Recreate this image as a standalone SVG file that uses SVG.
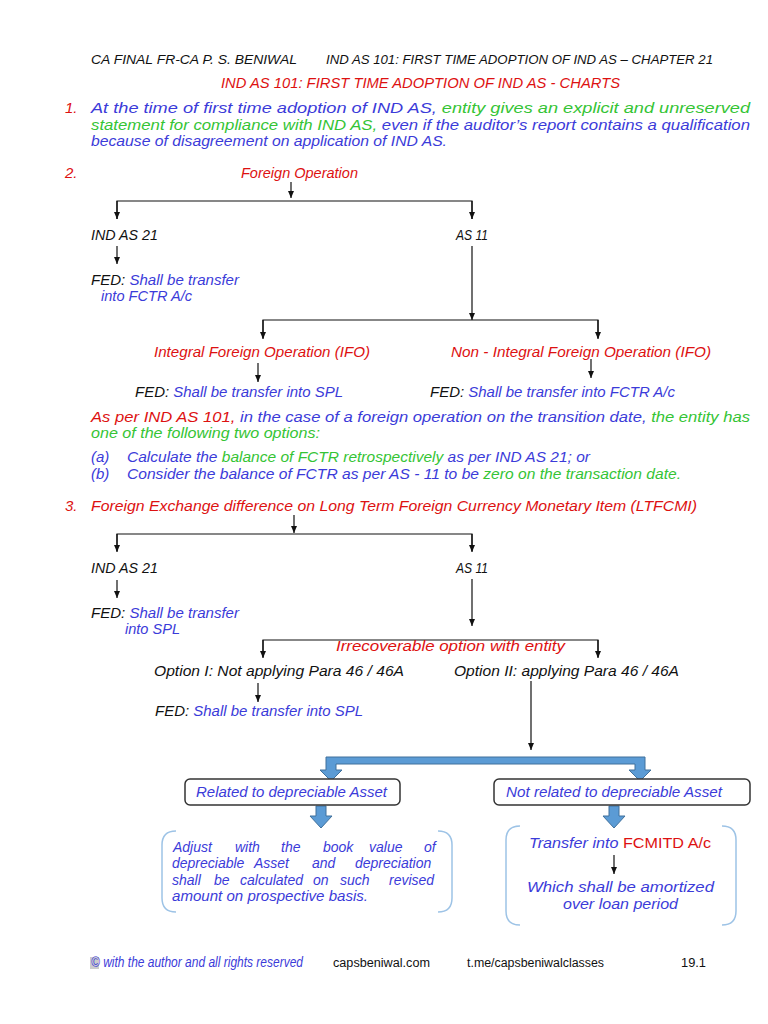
<svg xmlns="http://www.w3.org/2000/svg" width="768" height="1024" viewBox="0 0 768 1024">
<style>
text{font-family:"Liberation Sans","DejaVu Sans",sans-serif;font-style:italic;font-size:15px;fill:#111}
.k{fill:#111}.r{fill:#dd1111}.b{fill:#3b3bd9}.g{fill:#35c435}
.hd{font-size:13px}
.sm{font-size:14px}
.ft{font-style:normal;font-size:12px;font-family:"Liberation Sans","DejaVu Sans",sans-serif}
.cn line,.cn path.l{stroke:#111;stroke-width:1.2;fill:none}
.blk{fill:#5b9bd5;stroke:#41719c;stroke-width:1}
.box{fill:#fff;stroke:#333;stroke-width:1.5}
.brk{fill:none;stroke:#9dc3e6;stroke-width:1.5}
</style>
<defs>
<marker id="ah" markerWidth="8" markerHeight="8" refX="7" refY="4" orient="auto" markerUnits="userSpaceOnUse">
<path d="M0,1 L7,4 L0,7 Z" fill="#111"/>
</marker>
</defs>
<rect width="768" height="1024" fill="#fff"/>

<g id="header">
<text class="hd" x="91" y="64" textLength="206" lengthAdjust="spacingAndGlyphs">CA FINAL FR-CA P. S. BENIWAL</text>
<text class="hd" x="326" y="64" textLength="387" lengthAdjust="spacingAndGlyphs">IND AS 101: FIRST TIME ADOPTION OF IND AS – CHAPTER 21</text>
<text class="r" x="221" y="88" font-size="16" textLength="399" lengthAdjust="spacingAndGlyphs">IND AS 101: FIRST TIME ADOPTION OF IND AS - CHARTS</text>
</g>

<g id="point1">
<text class="r" x="65" y="113">1.</text>
<text x="91" y="113" textLength="659" lengthAdjust="spacingAndGlyphs"><tspan class="b">At the time of first time adoption of IND AS, </tspan><tspan class="g">entity gives an explicit and unreserved</tspan></text>
<text x="91" y="130" textLength="659" lengthAdjust="spacingAndGlyphs"><tspan class="g">statement for compliance with IND AS,</tspan><tspan class="b"> even if the auditor’s report contains a qualification</tspan></text>
<text class="b" x="91" y="146" textLength="356" lengthAdjust="spacingAndGlyphs">because of disagreement on application of IND AS.</text>
</g>

<g class="cn" id="connectors">
<line x1="291" y1="182" x2="291" y2="198" marker-end="url(#ah)"/>
<path class="l" d="M117,219 V201 H472 V219"/>
<line x1="117" y1="201" x2="117" y2="219" marker-end="url(#ah)"/>
<line x1="472" y1="201" x2="472" y2="219" marker-end="url(#ah)"/>
<line x1="117" y1="246" x2="117" y2="264" marker-end="url(#ah)"/>
<line x1="472" y1="246" x2="472" y2="320" stroke="#666" marker-end="url(#ah)"/>
<path class="l" d="M263,338 V320 H598 V338"/>
<line x1="263" y1="320" x2="263" y2="339" marker-end="url(#ah)"/>
<line x1="598" y1="320" x2="598" y2="339" marker-end="url(#ah)"/>
<line x1="258" y1="363" x2="258" y2="382" marker-end="url(#ah)"/>
<line x1="591" y1="359" x2="591" y2="378" marker-end="url(#ah)"/>
<line x1="294" y1="515" x2="294" y2="533" marker-end="url(#ah)"/>
<path class="l" d="M117,551 V534 H472 V551"/>
<line x1="117" y1="534" x2="117" y2="552" marker-end="url(#ah)"/>
<line x1="472" y1="534" x2="472" y2="552" marker-end="url(#ah)"/>
<line x1="117" y1="580" x2="117" y2="598" marker-end="url(#ah)"/>
<line x1="472" y1="579" x2="472" y2="626" stroke="#666" marker-end="url(#ah)"/>
<path class="l" d="M263,657 V640 H598 V657"/>
<line x1="263" y1="640" x2="263" y2="658" marker-end="url(#ah)"/>
<line x1="598" y1="640" x2="598" y2="658" marker-end="url(#ah)"/>
<line x1="258" y1="683" x2="258" y2="702" marker-end="url(#ah)"/>
<line x1="531" y1="681" x2="531" y2="750" marker-end="url(#ah)"/>
<line x1="614" y1="855" x2="614" y2="874" marker-end="url(#ah)"/>
<path class="blk" d="M326,757 H645 V770 H651 L640,781 L629,770 H635 V764 H336 V770 H342 L331,781 L320,770 H326 Z"/>
<path class="blk" d="M316,806 H326 V816 H332 L321,828 L310,816 H316 Z"/>
<path class="blk" d="M609,806 H619 V816 H625 L614,828 L603,816 H609 Z"/>
</g>

<g id="point2">
<text class="r" x="65" y="178">2.</text>
</g>
<g id="n-foreign-op"><text class="r" x="241" y="178" textLength="117" lengthAdjust="spacingAndGlyphs">Foreign Operation</text></g>
<g id="n-indas21-a"><text x="91" y="240" textLength="67" lengthAdjust="spacingAndGlyphs">IND AS 21</text></g>
<g id="n-as11-a"><text x="456" y="240" textLength="32" lengthAdjust="spacingAndGlyphs">AS 11</text></g>
<g id="n-fed-fctr">
<text x="91" y="285" textLength="148" lengthAdjust="spacingAndGlyphs">FED: <tspan class="b">Shall be transfer</tspan></text>
<text class="b" x="101" y="301" textLength="91" lengthAdjust="spacingAndGlyphs">into FCTR A/c</text>
</g>
<g id="n-ifo"><text class="r" x="154" y="357" textLength="216" lengthAdjust="spacingAndGlyphs">Integral Foreign Operation (IFO)</text></g>
<g id="n-nifo"><text class="r" x="451" y="357" textLength="260" lengthAdjust="spacingAndGlyphs">Non - Integral Foreign Operation (IFO)</text></g>
<g id="n-fed-spl-a"><text x="135" y="397" textLength="208" lengthAdjust="spacingAndGlyphs">FED: <tspan class="b">Shall be transfer into SPL</tspan></text></g>
<g id="n-fed-fctr2"><text x="430" y="397" textLength="245" lengthAdjust="spacingAndGlyphs">FED: <tspan class="b">Shall be transfer into FCTR A/c</tspan></text></g>

<g id="para2">
<text x="91" y="422" textLength="659" lengthAdjust="spacingAndGlyphs"><tspan class="r">As per IND AS 101,</tspan><tspan class="b"> in the case of a foreign operation on the transition date,</tspan><tspan class="g"> the entity has</tspan></text>
<text class="g" x="91" y="438" textLength="229" lengthAdjust="spacingAndGlyphs">one of the following two options:</text>
<text class="b" x="91" y="462">(a)</text>
<text x="127" y="462" textLength="463" lengthAdjust="spacingAndGlyphs"><tspan class="b">Calculate the </tspan><tspan class="g">balance of FCTR retrospectively</tspan><tspan class="b"> as per IND AS 21; or</tspan></text>
<text class="b" x="91" y="479">(b)</text>
<text x="127" y="479" textLength="554" lengthAdjust="spacingAndGlyphs"><tspan class="b">Consider the balance of FCTR as per AS - 11 to be </tspan><tspan class="g">zero on the transaction date.</tspan></text>
</g>

<g id="point3">
<text class="r" x="65" y="511">3.</text>
</g>
<g id="n-ltfcmi"><text class="r" x="91" y="511" textLength="606" lengthAdjust="spacingAndGlyphs">Foreign Exchange difference on Long Term Foreign Currency Monetary Item (LTFCMI)</text></g>
<g id="n-indas21-b"><text x="91" y="573" textLength="67" lengthAdjust="spacingAndGlyphs">IND AS 21</text></g>
<g id="n-as11-b"><text x="456" y="573" textLength="32" lengthAdjust="spacingAndGlyphs">AS 11</text></g>
<g id="n-fed-spl-b">
<text x="91" y="618" textLength="148" lengthAdjust="spacingAndGlyphs">FED: <tspan class="b">Shall be transfer</tspan></text>
<text class="b" x="125" y="634" textLength="55" lengthAdjust="spacingAndGlyphs">into SPL</text>
</g>
<g id="n-irrecov"><text class="r" x="336" y="651" font-size="17" textLength="229" lengthAdjust="spacingAndGlyphs">Irrecoverable option with entity</text></g>
<g id="n-opt1"><text x="154" y="676" textLength="250" lengthAdjust="spacingAndGlyphs">Option I: Not applying Para 46 / 46A</text></g>
<g id="n-opt2"><text x="454" y="676" textLength="225" lengthAdjust="spacingAndGlyphs">Option II: applying Para 46 / 46A</text></g>
<g id="n-fed-spl-c"><text x="155" y="716" textLength="208" lengthAdjust="spacingAndGlyphs">FED: <tspan class="b">Shall be transfer into SPL</tspan></text></g>

<g id="n-related">
<rect class="box" x="185" y="779" width="215" height="26" rx="5"/>
<text class="b sm" x="196" y="797" textLength="191" lengthAdjust="spacingAndGlyphs">Related to depreciable Asset</text>
</g>
<g id="n-notrelated">
<rect class="box" x="494" y="779" width="256" height="26" rx="5"/>
<text class="b sm" x="506" y="797" textLength="216" lengthAdjust="spacingAndGlyphs">Not related to depreciable Asset</text>
</g>
<g id="n-adjust">
<path class="brk" d="M176,831 Q162,831 162,845 V898 Q162,912 176,912"/>
<path class="brk" d="M438,831 Q452,831 452,845 V898 Q452,912 438,912"/>
<text class="b sm" y="852"><tspan x="173">Adjust</tspan><tspan x="235">with</tspan><tspan x="281">the</tspan><tspan x="323">book</tspan><tspan x="369">value</tspan><tspan x="424">of</tspan></text>
<text class="b sm" y="868"><tspan x="172">depreciable</tspan><tspan x="254">Asset</tspan><tspan x="312">and</tspan><tspan x="355">depreciation</tspan></text>
<text class="b sm" y="885"><tspan x="172">shall</tspan><tspan x="214">be</tspan><tspan x="240">calculated</tspan><tspan x="313">on</tspan><tspan x="340">such</tspan><tspan x="389">revised</tspan></text>
<text class="b sm" x="172" y="901" textLength="196" lengthAdjust="spacingAndGlyphs">amount on prospective basis.</text>
</g>
<g id="n-fcmitd">
<path class="brk" d="M520,826 Q506,826 506,840 V911 Q506,925 520,925"/>
<path class="brk" d="M722,826 Q736,826 736,840 V911 Q736,925 722,925"/>
<text class="b" x="529" y="848" font-size="16" textLength="182" lengthAdjust="spacingAndGlyphs">Transfer into <tspan class="r" font-style="normal">FCMITD A/c</tspan></text>
<text class="b" x="527" y="892" font-size="17" textLength="187" lengthAdjust="spacingAndGlyphs">Which shall be amortized</text>
<text class="b" x="563" y="909" font-size="17" textLength="115" lengthAdjust="spacingAndGlyphs">over loan period</text>
</g>

<g id="footer">
<rect x="90" y="957" width="9" height="12" fill="#cccccc"/>
<text class="b" x="91" y="967" font-size="9.5" textLength="212" lengthAdjust="spacingAndGlyphs">© with the author and all rights reserved</text>
<text class="ft" x="333" y="967" textLength="97" lengthAdjust="spacingAndGlyphs">capsbeniwal.com</text>
<text class="ft" x="467" y="967" textLength="137" lengthAdjust="spacingAndGlyphs">t.me/capsbeniwalclasses</text>
<text class="ft" x="681" y="967" textLength="25" lengthAdjust="spacingAndGlyphs">19.1</text>
</g>
</svg>
